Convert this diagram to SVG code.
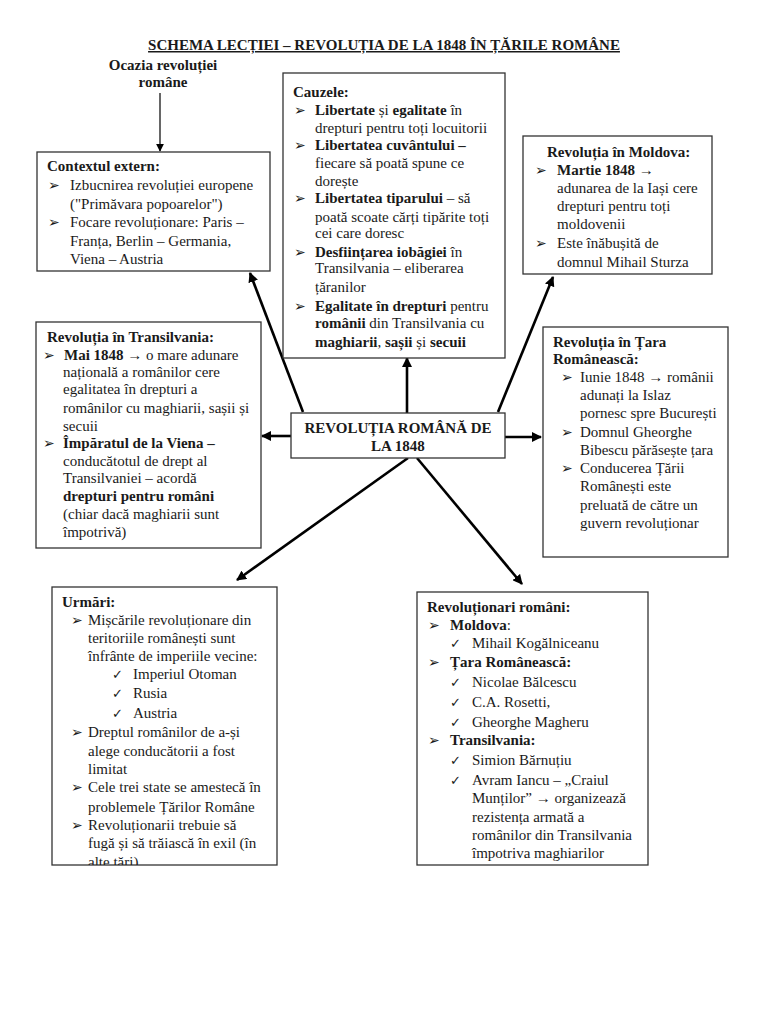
<svg xmlns="http://www.w3.org/2000/svg" width="768" height="1024" viewBox="0 0 768 1024">
<style>
.t{font-family:"Liberation Serif","Times New Roman",serif;font-size:15px;fill:#1a1a1a}
.b{font-weight:bold}
.bul{font-family:"DejaVu Sans",sans-serif;font-size:14px;fill:#1a1a1a}
.chk{font-family:"DejaVu Sans",sans-serif;font-size:13px;fill:#1a1a1a}
.box{fill:#fff;stroke:#333;stroke-width:1.3}
.con{stroke:#000;stroke-width:2.6;fill:none}
.thin{stroke:#000;stroke-width:1.2;fill:none}
</style>
<defs>
<marker id="ah" viewBox="0 0 10 10" refX="9" refY="5" markerWidth="10" markerHeight="10" markerUnits="userSpaceOnUse" orient="auto">
<path d="M0,0 L10,5 L0,10 Z" fill="#000"/>
</marker>
<marker id="ahs" viewBox="0 0 10 10" refX="9" refY="5" markerWidth="8" markerHeight="8" markerUnits="userSpaceOnUse" orient="auto">
<path d="M0,0 L10,5 L0,10 Z" fill="#000"/>
</marker>
<clipPath id="clipU"><rect x="52" y="587" width="225" height="278"/></clipPath>
</defs>
<rect width="768" height="1024" fill="#fff"/>

<text id="title" class="t b" x="384" y="50" text-anchor="middle" text-decoration="underline">SCHEMA LECȚIEI – REVOLUȚIA DE LA 1848 ÎN ȚĂRILE ROMÂNE</text>

<g id="connectors">
<line class="thin" x1="160" y1="93" x2="160" y2="151" marker-end="url(#ahs)"/>
<line class="con" x1="303" y1="412" x2="250" y2="273" marker-end="url(#ah)"/>
<line class="con" x1="407" y1="413" x2="407" y2="358" marker-end="url(#ah)"/>
<line class="con" x1="498" y1="412" x2="553" y2="277" marker-end="url(#ah)"/>
<line class="con" x1="291" y1="436" x2="262" y2="436" marker-end="url(#ah)"/>
<line class="con" x1="505" y1="437" x2="541" y2="437" marker-end="url(#ah)"/>
<line class="con" x1="408" y1="458" x2="237" y2="580" marker-end="url(#ah)"/>
<line class="con" x1="417" y1="458" x2="522" y2="584" marker-end="url(#ah)"/>
</g>

<g id="ocazia">
<text class="t b" x="163" y="70" text-anchor="middle">Ocazia revoluției</text>
<text class="t b" x="163" y="87" text-anchor="middle">române</text>
</g>

<g id="contextul">
<rect class="box" x="37" y="152" width="233" height="119"/>
<text class="t b" x="47" y="171">Contextul extern:</text>
<text class="bul" x="48" y="190">➢</text>
<text class="t" x="70" y="190">Izbucnirea revoluției europene</text>
<text class="t" x="70" y="209">("Primăvara popoarelor")</text>
<text class="bul" x="48" y="227">➢</text>
<text class="t" x="70" y="227">Focare revoluționare: Paris –</text>
<text class="t" x="70" y="246">Franța, Berlin – Germania,</text>
<text class="t" x="70" y="264">Viena – Austria</text>
</g>

<g id="cauzele">
<rect class="box" x="283" y="73" width="222" height="285"/>
<text class="t b" x="293" y="97">Cauzele:</text>
<text class="bul" x="294" y="115">➢</text>
<text class="t" x="315" y="115"><tspan class="b">Libertate</tspan> și <tspan class="b">egalitate</tspan> în</text>
<text class="t" x="315" y="133">drepturi pentru toți locuitorii</text>
<text class="bul" x="294" y="150">➢</text>
<text class="t b" x="315" y="150">Libertatea cuvântului –</text>
<text class="t" x="315" y="168">fiecare să poată spune ce</text>
<text class="t" x="315" y="186">dorește</text>
<text class="bul" x="294" y="203">➢</text>
<text class="t" x="315" y="203"><tspan class="b">Libertatea tiparului</tspan> – să</text>
<text class="t" x="315" y="222">poată scoate cărți tipărite toți</text>
<text class="t" x="315" y="238">cei care doresc</text>
<text class="bul" x="294" y="257">➢</text>
<text class="t" x="315" y="257"><tspan class="b">Desființarea iobăgiei</tspan> în</text>
<text class="t" x="315" y="273">Transilvania – eliberarea</text>
<text class="t" x="315" y="292">țăranilor</text>
<text class="bul" x="294" y="311">➢</text>
<text class="t" x="315" y="311"><tspan class="b">Egalitate în drepturi</tspan> pentru</text>
<text class="t" x="315" y="328"><tspan class="b">românii</tspan> din Transilvania cu</text>
<text class="t" x="315" y="347"><tspan class="b">maghiarii</tspan>, <tspan class="b">sașii</tspan> și <tspan class="b">secuii</tspan></text>
</g>

<g id="moldova">
<rect class="box" x="523" y="136" width="189" height="138"/>
<text class="t b" x="547" y="157">Revoluția în Moldova:</text>
<text class="bul" x="535" y="175">➢</text>
<text class="t b" x="557" y="175">Martie 1848 →</text>
<text class="t" x="557" y="193">adunarea de la Iași cere</text>
<text class="t" x="557" y="211">drepturi pentru toți</text>
<text class="t" x="557" y="229">moldovenii</text>
<text class="bul" x="535" y="248">➢</text>
<text class="t" x="557" y="248">Este înăbușită de</text>
<text class="t" x="557" y="267">domnul Mihail Sturza</text>
</g>

<g id="central">
<rect class="box" x="291" y="413" width="214" height="45"/>
<text class="t b" x="398" y="433" text-anchor="middle">REVOLUȚIA ROMÂNĂ DE</text>
<text class="t b" x="398" y="451" text-anchor="middle">LA 1848</text>
</g>

<g id="transilvania">
<rect class="box" x="36" y="322" width="225" height="226"/>
<text class="t b" x="47" y="342">Revoluția în Transilvania:</text>
<text class="bul" x="43" y="360">➢</text>
<text class="t" x="64" y="360"><tspan class="b">Mai 1848 →</tspan> o mare adunare</text>
<text class="t" x="63" y="377">națională a românilor cere</text>
<text class="t" x="63" y="394">egalitatea în drepturi a</text>
<text class="t" x="63" y="413">românilor cu maghiarii, sașii și</text>
<text class="t" x="63" y="431">secuii</text>
<text class="bul" x="43" y="448">➢</text>
<text class="t b" x="63" y="448">Împăratul de la Viena –</text>
<text class="t" x="63" y="466">conducătotul de drept al</text>
<text class="t" x="63" y="483">Transilvaniei – acordă</text>
<text class="t b" x="63" y="501">drepturi pentru români</text>
<text class="t" x="63" y="519">(chiar dacă maghiarii sunt</text>
<text class="t" x="63" y="537">împotrivă)</text>
</g>

<g id="tara-romaneasca">
<rect class="box" x="543" y="327" width="185" height="230"/>
<text class="t b" x="553" y="347">Revoluția în Țara</text>
<text class="t b" x="553" y="364">Românească:</text>
<text class="bul" x="561" y="382">➢</text>
<text class="t" x="580" y="382">Iunie 1848 → românii</text>
<text class="t" x="580" y="400">adunați la Islaz</text>
<text class="t" x="580" y="418">pornesc spre București</text>
<text class="bul" x="561" y="437">➢</text>
<text class="t" x="580" y="437">Domnul Gheorghe</text>
<text class="t" x="580" y="455">Bibescu părăsește țara</text>
<text class="bul" x="561" y="473">➢</text>
<text class="t" x="580" y="473">Conducerea Țării</text>
<text class="t" x="580" y="491">Românești este</text>
<text class="t" x="580" y="510">preluată de către un</text>
<text class="t" x="580" y="528">guvern revoluționar</text>
</g>

<g id="urmari">
<rect class="box" x="52" y="587" width="225" height="278"/>
<g clip-path="url(#clipU)">
<text class="t b" x="62" y="607">Urmări:</text>
<text class="bul" x="71" y="625">➢</text>
<text class="t" x="88" y="625">Mișcările revoluționare din</text>
<text class="t" x="88" y="643">teritoriile românești sunt</text>
<text class="t" x="88" y="661">înfrânte de imperiile vecine:</text>
<text class="chk" x="112" y="679">✓</text>
<text class="t" x="133" y="679">Imperiul Otoman</text>
<text class="chk" x="112" y="698">✓</text>
<text class="t" x="133" y="698">Rusia</text>
<text class="chk" x="112" y="718">✓</text>
<text class="t" x="133" y="718">Austria</text>
<text class="bul" x="71" y="737">➢</text>
<text class="t" x="88" y="737">Dreptul românilor de a-și</text>
<text class="t" x="88" y="756">alege conducătorii a fost</text>
<text class="t" x="88" y="774">limitat</text>
<text class="bul" x="71" y="792">➢</text>
<text class="t" x="88" y="792">Cele trei state se amestecă în</text>
<text class="t" x="88" y="812">problemele Țărilor Române</text>
<text class="bul" x="71" y="830">➢</text>
<text class="t" x="88" y="830">Revoluționarii trebuie să</text>
<text class="t" x="88" y="848">fugă și să trăiască în exil (în</text>
<text class="t" x="88" y="867">alte țări)</text>
</g>
</g>

<g id="revolutionari">
<rect class="box" x="417" y="592" width="231" height="273"/>
<text class="t b" x="427" y="612">Revoluționari români:</text>
<text class="bul" x="428" y="630">➢</text>
<text class="t" x="450" y="630"><tspan class="b">Moldova</tspan>:</text>
<text class="chk" x="450" y="648">✓</text>
<text class="t" x="472" y="648">Mihail Kogălniceanu</text>
<text class="bul" x="428" y="667">➢</text>
<text class="t b" x="450" y="667">Țara Românească:</text>
<text class="chk" x="450" y="687">✓</text>
<text class="t" x="472" y="687">Nicolae Bălcescu</text>
<text class="chk" x="450" y="707">✓</text>
<text class="t" x="472" y="707">C.A. Rosetti,</text>
<text class="chk" x="450" y="727">✓</text>
<text class="t" x="472" y="727">Gheorghe Magheru</text>
<text class="bul" x="428" y="745">➢</text>
<text class="t b" x="450" y="745">Transilvania:</text>
<text class="chk" x="450" y="765">✓</text>
<text class="t" x="472" y="765">Simion Bărnuțiu</text>
<text class="chk" x="450" y="785">✓</text>
<text class="t" x="472" y="785">Avram Iancu – „Craiul</text>
<text class="t" x="472" y="803">Munților” → organizează</text>
<text class="t" x="472" y="822">rezistența armată a</text>
<text class="t" x="472" y="840">românilor din Transilvania</text>
<text class="t" x="472" y="858">împotriva maghiarilor</text>
</g>
</svg>
